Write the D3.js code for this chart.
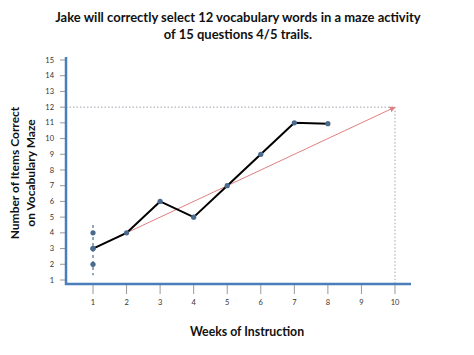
<!DOCTYPE html>
<html>
<head>
<meta charset="utf-8">
<script src="https://cdn.jsdelivr.net/npm/d3@7"></script>
<style>
  body { margin: 0; background: #fff; }
  svg { font-family: Lato, "Open Sans", sans-serif; }
</style>
</head>
<body>
<div id="chart"></div>
<script>
const titleLines = ["Jake will correctly select 12 vocabulary words in a maze activity", "of 15 questions 4/5 trails."];
const yLabelLines = ["Number of Items Correct", "on Vocabulary Maze"];
const xLabel = "Weeks of Instruction";

const weeks = [1, 2, 3, 4, 5, 6, 7, 8];
const scores = [3, 4, 6, 5, 7, 9, 11, 10.95];
const baselineWeek = [1, 1, 1];
const baselineScores = [2, 3, 4];
const goalWeek = 10;
const goalScore = 12;
const xTicks = [1, 2, 3, 4, 5, 6, 7, 8, 9, 10];
const yTicks = d3.range(1, 16);

const width = 474, height = 355;
const svg = d3.select('#chart').append('svg')
  .attr('width', width).attr('height', height);

const x = d3.scaleLinear().domain([1, 10]).range([93, 395]);
const y = d3.scaleLinear().domain([1, 15]).range([280, 60]);
const axisX = 66, axisY = 284;

// title
svg.append('text')
  .attr('x', 238).attr('y', 22)
  .attr('text-anchor', 'middle')
  .attr('font-weight', 'bold').attr('font-size', 13).attr('fill', '#111')
  .selectAll('tspan').data(titleLines).enter().append('tspan')
    .attr('x', 238).attr('dy', (d, i) => i === 0 ? 0 : 16.5)
    .text(d => d);

// y ticks
const yAxis = svg.append('g');
yAxis.selectAll('line').data(yTicks).enter().append('line')
  .attr('x1', axisX - 6).attr('x2', axisX)
  .attr('y1', d => y(d)).attr('y2', d => y(d))
  .attr('stroke', '#999').attr('stroke-width', 1);
yAxis.selectAll('text').data(yTicks).enter().append('text')
  .attr('x', axisX - 12).attr('y', d => y(d) + 2.5)
  .attr('text-anchor', 'end').attr('font-size', 7.5).attr('fill', '#333')
  .text(d => d);

// x ticks
const xAxis = svg.append('g');
xAxis.selectAll('line').data(xTicks).enter().append('line')
  .attr('x1', d => x(d)).attr('x2', d => x(d))
  .attr('y1', axisY).attr('y2', axisY + 10)
  .attr('stroke', '#999').attr('stroke-width', 1);
xAxis.selectAll('text').data(xTicks).enter().append('text')
  .attr('x', d => x(d)).attr('y', axisY + 21)
  .attr('text-anchor', 'middle').attr('font-size', 7.5).attr('fill', '#333')
  .text(d => d);

// goal guide lines
svg.append('line')
  .attr('x1', axisX).attr('x2', x(goalWeek))
  .attr('y1', y(goalScore)).attr('y2', y(goalScore))
  .attr('stroke', '#9aa4ad').attr('stroke-width', 1).attr('stroke-dasharray', '1.5,2');
svg.append('line')
  .attr('x1', x(goalWeek)).attr('x2', x(goalWeek))
  .attr('y1', y(goalScore)).attr('y2', axisY)
  .attr('stroke', '#9aa4ad').attr('stroke-width', 1).attr('stroke-dasharray', '1.5,2');

// axes lines
svg.append('line')
  .attr('x1', axisX).attr('x2', axisX).attr('y1', 57).attr('y2', axisY + 1)
  .attr('stroke', '#4a7ebb').attr('stroke-width', 2.5);
svg.append('line')
  .attr('x1', axisX - 1).attr('x2', 411).attr('y1', axisY).attr('y2', axisY)
  .attr('stroke', '#4a7ebb').attr('stroke-width', 2.5);

// baseline dashed range
svg.append('line')
  .attr('x1', x(1)).attr('x2', x(1))
  .attr('y1', y(4.5)).attr('y2', y(1.3))
  .attr('stroke', '#4f6f8f').attr('stroke-width', 1.2).attr('stroke-dasharray', '3,3');

// aim line with arrow
svg.append('defs').append('marker')
  .attr('id', 'arrow').attr('viewBox', '0 0 10 10')
  .attr('refX', 9).attr('refY', 5)
  .attr('markerWidth', 6).attr('markerHeight', 6)
  .attr('orient', 'auto')
  .append('path').attr('d', 'M0,0 L10,5 L0,10 z').attr('fill', '#e08080');
svg.append('line')
  .attr('x1', x(1)).attr('y1', y(3))
  .attr('x2', x(goalWeek)).attr('y2', y(goalScore))
  .attr('stroke', '#e08080').attr('stroke-width', 1)
  .attr('marker-end', 'url(#arrow)');

// progress line
const line = d3.line().x((d, i) => x(weeks[i])).y(d => y(d));
svg.append('path')
  .datum(scores)
  .attr('d', line)
  .attr('fill', 'none').attr('stroke', '#000').attr('stroke-width', 2);

// points
svg.selectAll('circle.p').data(scores).enter().append('circle')
  .attr('class', 'p')
  .attr('cx', (d, i) => x(weeks[i])).attr('cy', d => y(d))
  .attr('r', 2.6).attr('fill', '#4a6a8e');
svg.selectAll('circle.b').data(baselineScores).enter().append('circle')
  .attr('class', 'b')
  .attr('cx', (d, i) => x(baselineWeek[i])).attr('cy', d => y(d))
  .attr('r', 2.6).attr('fill', '#4a6a8e');

// axis labels
svg.append('text')
  .attr('x', 247).attr('y', 336)
  .attr('text-anchor', 'middle')
  .attr('font-weight', 'bold').attr('font-size', 12.3).attr('fill', '#111')
  .text(xLabel);
const yl = svg.append('text')
  .attr('transform', 'translate(19,173) rotate(-90)')
  .attr('text-anchor', 'middle')
  .attr('font-weight', 'bold').attr('font-size', 12).attr('fill', '#111');
yl.selectAll('tspan').data(yLabelLines).enter().append('tspan')
  .attr('x', 0).attr('dy', (d, i) => i === 0 ? 0 : 16)
  .text(d => d);
</script>
</body>
</html>
